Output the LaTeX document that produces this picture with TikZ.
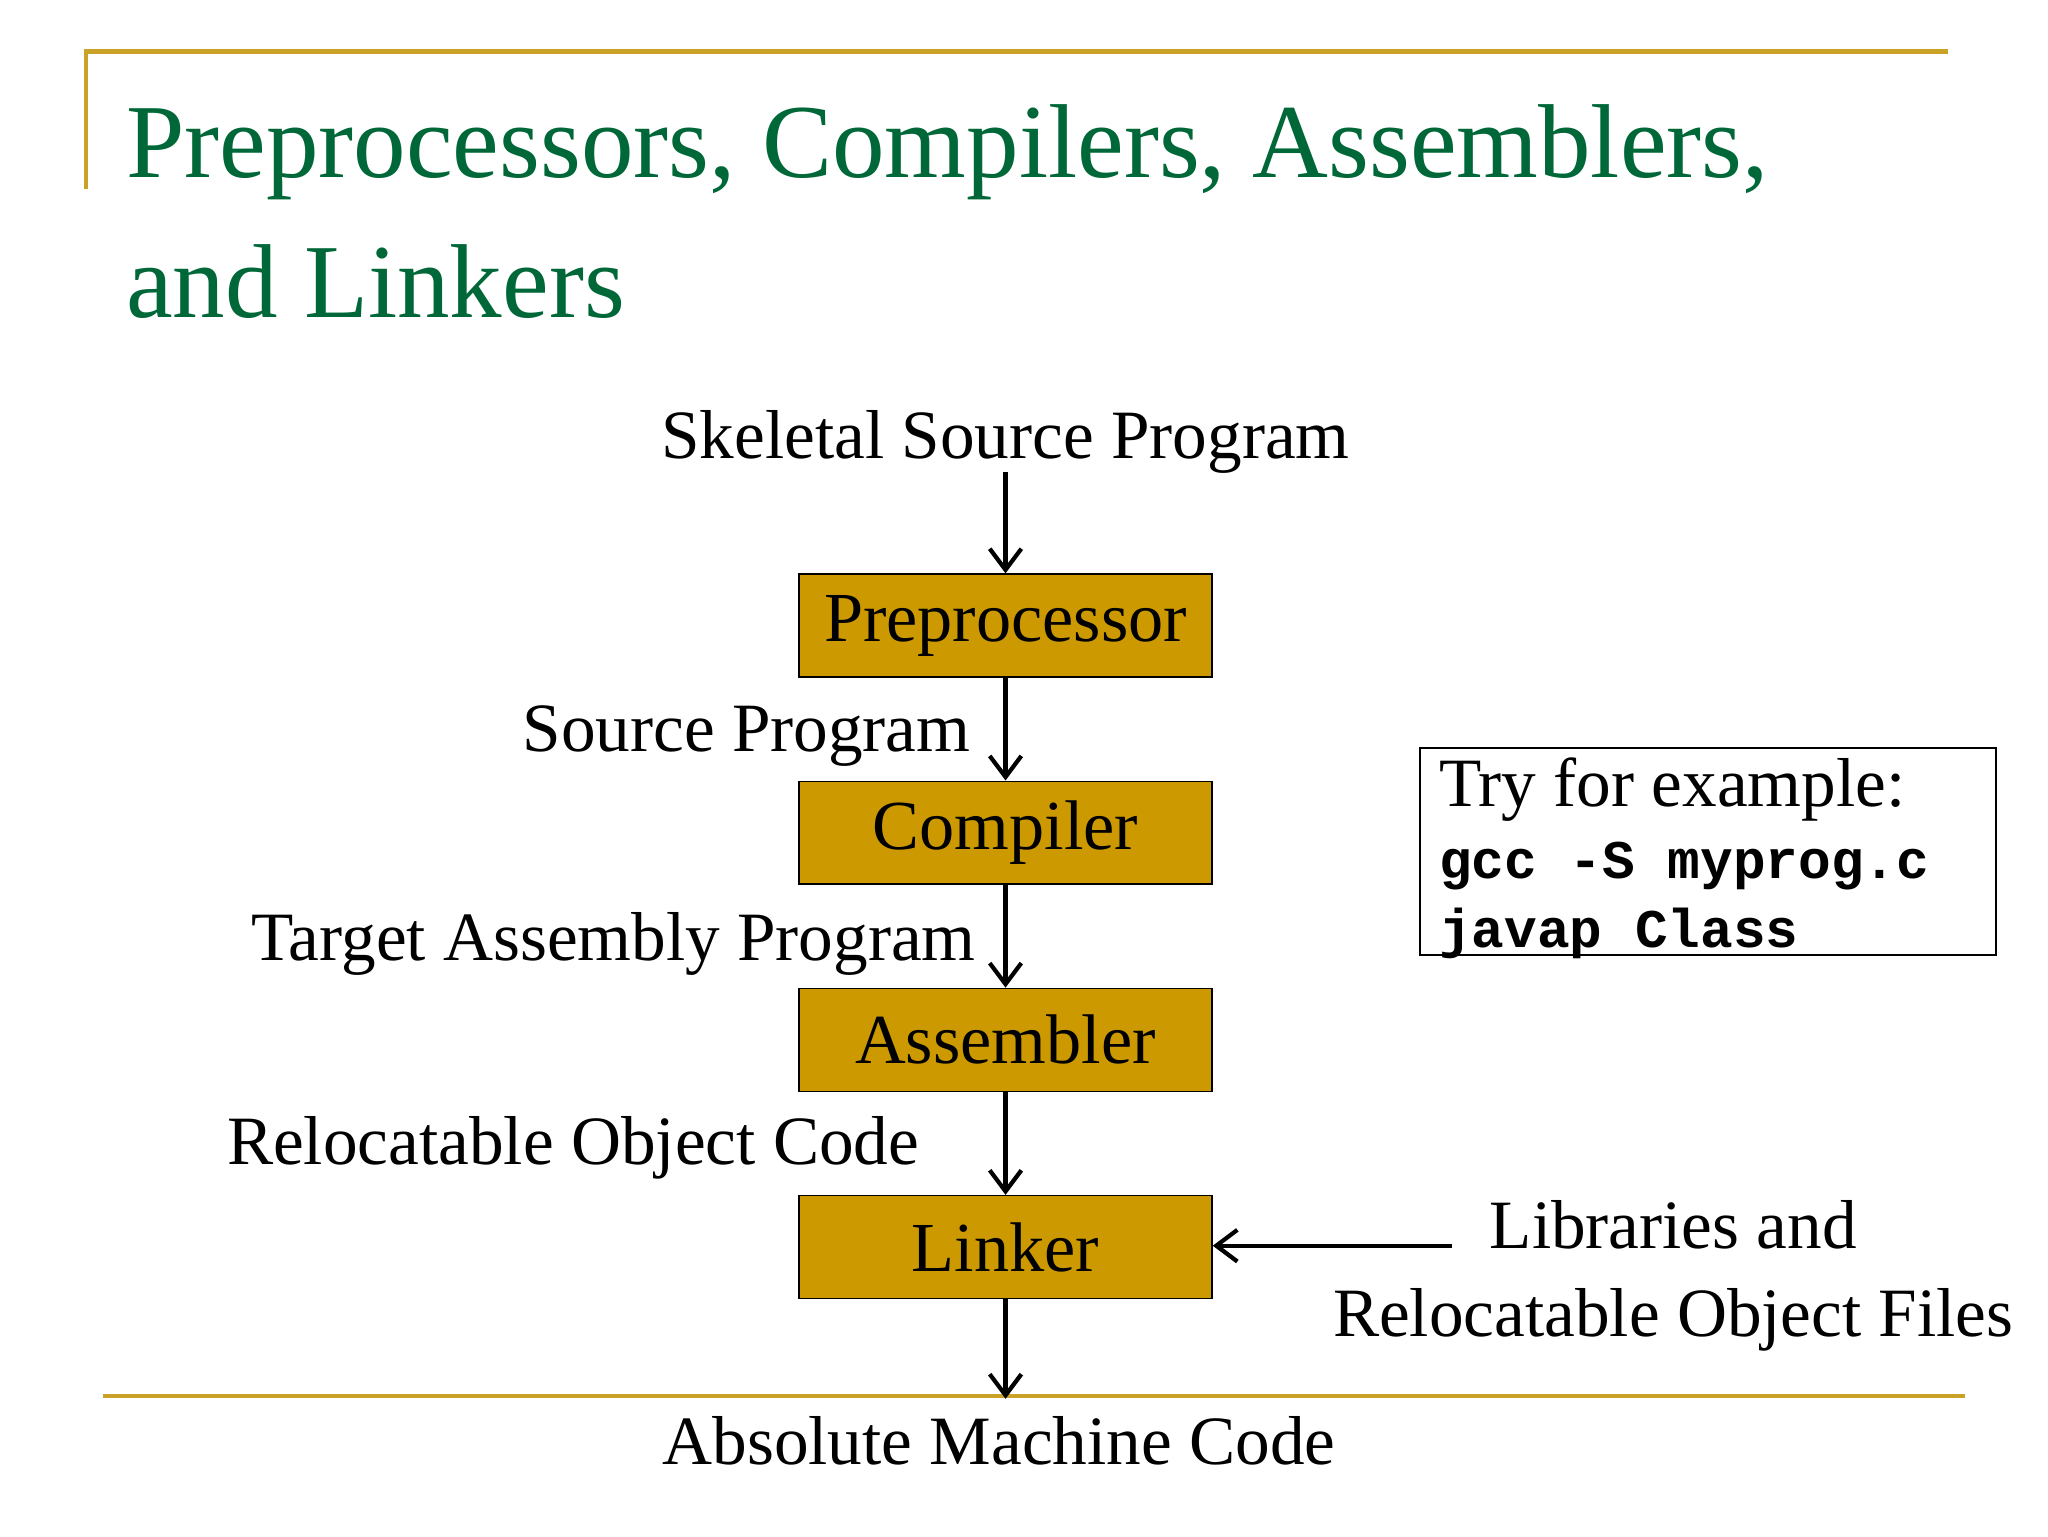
\documentclass[tikz,border=0pt]{standalone}
\usepackage{fontspec}
\setmainfont{Liberation Serif}
\setmonofont{Liberation Mono}
\usetikzlibrary{arrows.meta}
\definecolor{gold}{HTML}{CC9900}
\definecolor{rule}{HTML}{C9A227}
\definecolor{titlegreen}{HTML}{006838}
\tikzset{
  stage/.style={draw=black, fill=gold, minimum width=313*0.013196cm,
    minimum height=78*0.013196cm, inner sep=0pt, font=\fontsize{20}{24}\selectfont},
  lbl/.style={inner sep=0pt, font=\fontsize{19.7}{24}\selectfont},
  flow/.style={-{Straight Barb[length=6pt,width=9pt]}, line width=1.2pt},
}
\begin{document}
\begin{tikzpicture}[x=0.013196cm, y=-0.013196cm]
\useasboundingbox (0,0) rectangle (1552,1164);
% slide rules
\draw[rule, line width=1.2pt] (65,143) -- (65,39) -- (1476,39);
\draw[rule, line width=1.2pt] (78,1058) -- (1489,1058);
% title
\node[anchor=west, inner sep=0pt, text=titlegreen, font=\fontsize{29.9}{36}\selectfont] (t1) at (95,115) {Preprocessors, Compilers, Assemblers,};
\node[anchor=west, inner sep=0pt, text=titlegreen, font=\fontsize{29.9}{36}\selectfont] (t2) at (95,213) {and Linkers};
% stages
\node[stage] (pre) at (762,474) {Preprocessor};
\node[stage] (comp) at (762,631) {Compiler};
\node[stage] (asm) at (762,788) {Assembler};
\node[stage] (link) at (762,945) {Linker};
\node[lbl] (src0) at (762,335) {Skeletal Source Program};
\node[lbl] (out) at (757,1092) {Absolute Machine Code};
\coordinate (s0) at (762,358);
\coordinate (e0) at (762,1060);
\draw[flow] (s0) -- (pre);
\draw[flow] (pre) -- (comp);
\draw[flow] (comp) -- (asm);
\draw[flow] (asm) -- (link);
\draw[flow] (link) -- (e0);
\node[lbl, anchor=east] (l1) at (736,558) {Source Program};
\node[lbl, anchor=east] (l2) at (740,715) {Target Assembly Program};
\node[lbl, anchor=east] (l3) at (697,870) {Relocatable Object Code};
% libraries
\node[lbl, align=center, font=\fontsize{19.7}{25}\selectfont] (lib) at (1268,967) {Libraries and\\Relocatable Object Files};
\coordinate (ls) at (1100,944);
\draw[flow] (ls) -- (link.east |- ls);
% try box
\node[draw=black, line width=0.6pt, anchor=north west, minimum width=437*0.013196cm,
  minimum height=157*0.013196cm, inner sep=0pt] (try) at (1075,566) {};
\node[lbl, anchor=west] (tr1) at (1090,598) {Try for example:};
\node[inner sep=0pt, anchor=west, font=\fontsize{15.5}{18}\selectfont\ttfamily\bfseries] (tr2) at (1090,656) {gcc -S myprog.c};
\node[inner sep=0pt, anchor=west, font=\fontsize{15.5}{18}\selectfont\ttfamily\bfseries] (tr3) at (1090,707) {javap Class};
\end{tikzpicture}
\end{document}
